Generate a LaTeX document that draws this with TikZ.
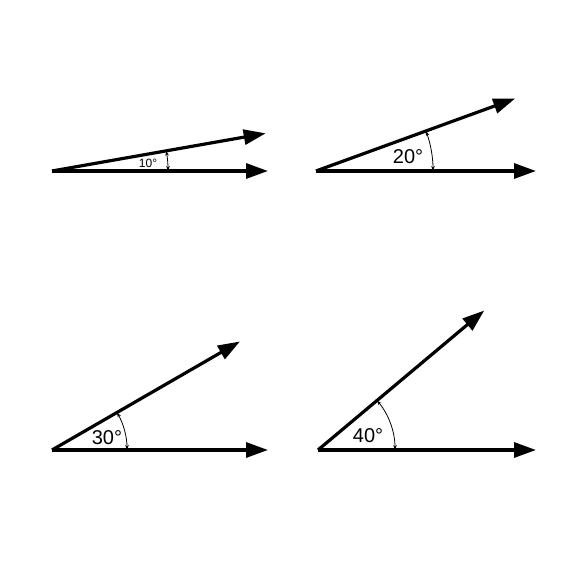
\documentclass[tikz,border=0pt]{standalone}
\usepackage{fontspec}
\setmainfont{Liberation Sans}
\usetikzlibrary{arrows.meta,calc}
\tikzset{
  ray/.style={line width=3.2pt,-{Triangle[length=22pt,width=15pt]}},
  anglearc/.style={line width=0.8pt,{Stealth[length=5pt,width=3.5pt]}-{Stealth[length=5pt,width=3.5pt]}},
  biglabel/.style={font=\fontsize{20}{22}\selectfont,inner sep=0pt},
  smalllabel/.style={font=\fontsize{12}{14}\selectfont,inner sep=0pt}
}
\begin{document}
\begin{tikzpicture}[x=1pt,y=1pt]
\useasboundingbox[fill=white] (0,0) rectangle (576,576);
% 10 degrees
\coordinate (v1) at (52,405);
\coordinate (h1) at (268,405);
\coordinate (u1) at ($(v1)+(10:217)$);
\draw[ray] (v1) -- (h1);
\draw[ray] (v1) -- (u1);
\draw[anglearc] ($(v1)+(0:116)$) arc[start angle=0,end angle=10,radius=116];
\node[smalllabel] (l1) at (148,413) {10°};
% 20 degrees
\coordinate (v2) at (316,405);
\coordinate (h2) at (536,405);
\coordinate (u2) at ($(v2)+(20:212)$);
\draw[ray] (v2) -- (h2);
\draw[ray] (v2) -- (u2);
\draw[anglearc] ($(v2)+(0:117)$) arc[start angle=0,end angle=20,radius=117];
\node[biglabel] (l2) at (408,419) {20°};
% 30 degrees
\coordinate (v3) at (52,126);
\coordinate (h3) at (268,126);
\coordinate (u3) at ($(v3)+(30:217)$);
\draw[ray] (v3) -- (h3);
\draw[ray] (v3) -- (u3);
\draw[anglearc] ($(v3)+(0:75)$) arc[start angle=0,end angle=30,radius=75];
\node[biglabel] (l3) at (107,138) {30°};
% 40 degrees
\coordinate (v4) at (318,126);
\coordinate (h4) at (536,126);
\coordinate (u4) at ($(v4)+(40:217)$);
\draw[ray] (v4) -- (h4);
\draw[ray] (v4) -- (u4);
\draw[anglearc] ($(v4)+(0:77)$) arc[start angle=0,end angle=40,radius=77];
\node[biglabel] (l4) at (368,140) {40°};
\end{tikzpicture}
\end{document}
